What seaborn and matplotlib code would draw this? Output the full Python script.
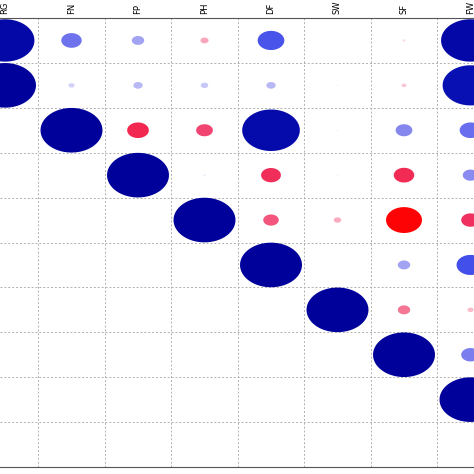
import numpy as np, pandas as pd
import matplotlib
matplotlib.use("Agg")
import matplotlib.pyplot as plt
import seaborn as sns
from matplotlib.path import Path
from matplotlib.colors import LinearSegmentedColormap

cols = ["RG", "FN", "FP", "PH", "DF", "SW", "SF", "FW"]
nrows = 10
# (row, col, r)
row_idx = [0,0,0,0,0,0,0, 1,1,1,1,1,1,1,1, 2,2,2,2,2,2,2, 3,3,3,3,3,3, 4,4,4,4,4, 5,5,5,5, 6,6,6, 7,7, 8]
col_idx = [0,1,2,3,4,6,7, 0,1,2,3,4,5,6,7, 1,2,3,4,5,6,7, 2,3,4,5,6,7, 3,4,5,6,7, 4,5,6,7, 5,6,7, 6,7, 7]
r_vals  = [0.95,0.33,0.2,-0.13,0.43,-0.05,0.95,
           1.0,0.1,0.15,0.12,0.15,0.03,-0.08,0.9,
           1.0,-0.35,-0.27,0.93,0.03,0.27,0.35,
           1.0,0.04,-0.32,0.03,-0.33,0.25,
           1.0,-0.25,-0.12,-0.58,-0.3,
           1.0,0.02,0.2,0.45,
           1.0,-0.2,-0.1,
           1.0,0.3,
           1.0]

df = pd.DataFrame({"row": row_idx, "col": col_idx, "r": r_vals})
df["area"] = df["r"] ** 2

cmap = LinearSegmentedColormap.from_list("rb", [
    (0.0, "#b00000"), (0.2, "#ff0000"), (0.35, "#f03060"), (0.5, "#ffffff"),
    (0.62, "#9090f0"), (0.75, "#3040e8"), (0.9, "#1020d0"), (1.0, "#00009a")])

t = np.linspace(0, 2*np.pi, 60)
ell = Path(np.column_stack([np.cos(t), 0.72*np.sin(t)]), closed=True)

fig = plt.figure(figsize=(4.74, 4.74), dpi=100)
ax = fig.add_axes([0, 7/474, 1, 449/474])
smax = (62 * 0.72) ** 2
sns.scatterplot(data=df, x="col", y="row", hue="r", palette=cmap, hue_norm=(-1, 1),
                size="area", sizes=(0, smax), size_norm=(0, 1), marker=ell,
                edgecolor="none", legend=False, ax=ax)
ax.set_xlim(-5/66.5, 469/66.5)
ax.set_ylim(nrows - 0.5, -0.5)
for x in np.arange(0.5, 8, 1):
    ax.axvline(x, color="#b0b0b0", ls=(0, (2, 2)), lw=0.7, zorder=0)
for y in np.arange(0.5, nrows - 0.5, 1):
    ax.axhline(y, color="#b0b0b0", ls=(0, (2, 2)), lw=0.7, zorder=0)
ax.set_xlabel(""); ax.set_ylabel("")
ax.set_yticks([])
ax.xaxis.tick_top()
ax.set_xticks(range(len(cols)))
ax.set_xticklabels(cols, rotation=90, fontsize=6)
ax.tick_params(axis="x", length=0, pad=3)
for s in ["left", "right"]:
    ax.spines[s].set_visible(False)
for s in ["top", "bottom"]:
    ax.spines[s].set_color("#555555")
fig.savefig("out.png", dpi=100)
